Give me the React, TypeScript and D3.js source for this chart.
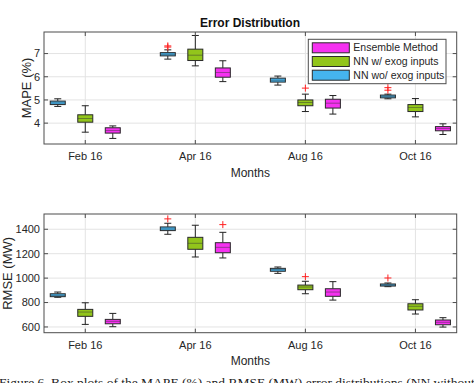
import React from "react";
import * as d3 from "d3";

const months = ["Feb 16", "Apr 16", "Aug 16", "Oct 16"];
const seriesNames = ["NN wo/ exog inputs", "NN w/ exog inputs", "Ensemble Method"];
const seriesColors = ["#45b4ee", "#92c51b", "#f531f0"];
const legendOrder = [2, 1, 0];

// [whiskerLow, q1, median, q3, whiskerHigh] per month, per series
const mapeBlue = [
  [4.72, 4.8, 4.87, 4.95, 5.05],
  [6.76, 6.9, 6.97, 7.04, 7.16],
  [5.64, 5.77, 5.85, 5.94, 6.03],
  [5.05, 5.09, 5.15, 5.21, 5.25],
];
const mapeGreen = [
  [3.61, 4.04, 4.2, 4.36, 4.75],
  [6.47, 6.7, 6.93, 7.19, 7.78],
  [4.5, 4.75, 4.89, 5.0, 5.25],
  [4.27, 4.5, 4.67, 4.8, 5.06],
];
const mapeMagenta = [
  [3.34, 3.57, 3.68, 3.8, 3.88],
  [5.79, 5.98, 6.18, 6.38, 6.69],
  [4.39, 4.65, 4.86, 5.03, 5.19],
  [3.51, 3.67, 3.77, 3.85, 3.97],
];
const mapeBlueOut = [[], [7.33, 7.28], [], [5.53, 5.42]];
const mapeGreenOut = [[], [], [5.51], []];
const mapeMagentaOut = [[], [], [], []];

const rmseBlue = [
  [843, 848, 859, 872, 886],
  [1359, 1389, 1402, 1419, 1449],
  [1039, 1056, 1069, 1080, 1091],
  [930, 935, 943, 952, 960],
];
const rmseGreen = [
  [621, 687, 722, 744, 798],
  [1173, 1236, 1285, 1334, 1433],
  [872, 905, 927, 943, 974],
  [706, 739, 769, 790, 823],
];
const rmseMagenta = [
  [602, 626, 646, 662, 711],
  [1165, 1208, 1252, 1290, 1375],
  [820, 851, 886, 913, 971],
  [599, 618, 638, 657, 676],
];
const rmseBlueOut = [[], [1485], [], [1001]];
const rmseGreenOut = [[], [], [1012], []];
const rmseMagentaOut = [[], [1438], [], []];

const mapeTicks = [4, 5, 6, 7];
const rmseTicks = [600, 800, 1000, 1200, 1400];

const FONT = "'Liberation Sans', Arial, Helvetica, sans-serif";
const AX = "#4d4d4d";
const TXT = "#262626";

type Panel = {
  top: number;
  bottom: number;
  domain: [number, number];
  ticks: number[];
  ylabel: string;
  ylabelX: number;
  stats: number[][][];
  outs: number[][][];
  xlabelY: number;
};

const left = 44;
const right = 456.7;

function PanelView({ p }: { p: Panel }) {
  const x = d3.scaleLinear().domain([0.5, 15.5]).range([left, right]);
  const y = d3.scaleLinear().domain(p.domain).range([p.bottom, p.top]);
  const monthPos = months.map((_, i) => 2 + i * 4);
  const boxW = 15;
  const capW = 7;
  const tl = 4;
  return (
    <g>
      <rect x={left} y={p.top} width={right - left} height={p.bottom - p.top} fill="#fff" />
      {p.ticks.map((t) => (
        <line key={"gy" + t} x1={left} x2={right} y1={y(t)} y2={y(t)} stroke="#e3e3e3" strokeWidth={1} />
      ))}
      {monthPos.map((m) => (
        <line key={"gx" + m} x1={x(m)} x2={x(m)} y1={p.top} y2={p.bottom} stroke="#e3e3e3" strokeWidth={1} />
      ))}
      {p.stats.map((series, si) =>
        series.map((s, mi) => {
          const cx = x(monthPos[mi] + (si - 1));
          const [lo, q1, med, q3, hi] = s;
          return (
            <g key={`b${si}-${mi}`}>
              <line x1={cx} x2={cx} y1={y(hi)} y2={y(q3)} stroke="#222" strokeWidth={1} />
              <line x1={cx} x2={cx} y1={y(q1)} y2={y(lo)} stroke="#222" strokeWidth={1} />
              <line x1={cx - capW / 2} x2={cx + capW / 2} y1={y(hi)} y2={y(hi)} stroke="#222" strokeWidth={1} />
              <line x1={cx - capW / 2} x2={cx + capW / 2} y1={y(lo)} y2={y(lo)} stroke="#222" strokeWidth={1} />
              <rect
                x={cx - boxW / 2}
                y={y(q3)}
                width={boxW}
                height={Math.max(1, y(q1) - y(q3))}
                fill={seriesColors[si]}
                stroke="#2a2a2a"
                strokeWidth={1}
              />
              <line x1={cx - boxW / 2} x2={cx + boxW / 2} y1={y(med)} y2={y(med)} stroke="#333" strokeWidth={0.8} opacity={0.6} />
              {p.outs[si][mi].map((o, oi) => (
                <g key={oi} stroke="#ff2020" strokeWidth={1}>
                  <line x1={cx - 3.5} x2={cx + 3.5} y1={y(o)} y2={y(o)} />
                  <line x1={cx} x2={cx} y1={y(o) - 3.5} y2={y(o) + 3.5} />
                </g>
              ))}
            </g>
          );
        })
      )}
      <rect x={left} y={p.top} width={right - left} height={p.bottom - p.top} fill="none" stroke={AX} strokeWidth={1} />
      {p.ticks.map((t) => (
        <g key={"ty" + t}>
          <line x1={left} x2={left + tl} y1={y(t)} y2={y(t)} stroke={AX} />
          <line x1={right - tl} x2={right} y1={y(t)} y2={y(t)} stroke={AX} />
          <text x={left - 4} y={y(t)} dy="0.35em" textAnchor="end" fontSize={11} fill={TXT} fontFamily={FONT}>
            {t}
          </text>
        </g>
      ))}
      {monthPos.map((m, i) => (
        <g key={"tx" + m}>
          <line x1={x(m)} x2={x(m)} y1={p.bottom} y2={p.bottom - tl} stroke={AX} />
          <line x1={x(m)} x2={x(m)} y1={p.top} y2={p.top + tl} stroke={AX} />
          <text x={x(m)} y={p.bottom + 16} textAnchor="middle" fontSize={11} fill={TXT} fontFamily={FONT}>
            {months[i]}
          </text>
        </g>
      ))}
      <text x={(left + right) / 2} y={p.xlabelY} textAnchor="middle" fontSize={12} fill={TXT} fontFamily={FONT}>
        Months
      </text>
      <text
        transform={`translate(${p.ylabelX},${(p.top + p.bottom) / 2}) rotate(-90)`}
        textAnchor="middle"
        dy="0.35em"
        fontSize={13}
        fill={TXT}
        fontFamily={FONT}
      >
        {p.ylabel}
      </text>
    </g>
  );
}

export default function App() {
  const top: Panel = {
    top: 32,
    bottom: 144,
    domain: [3.1, 7.93],
    ticks: mapeTicks,
    ylabel: "MAPE (%)",
    ylabelX: 26,
    stats: [mapeBlue, mapeGreen, mapeMagenta],
    outs: [mapeBlueOut, mapeGreenOut, mapeMagentaOut],
    xlabelY: 177,
  };
  const bottom: Panel = {
    top: 214,
    bottom: 332.7,
    domain: [553, 1525],
    ticks: rmseTicks,
    ylabel: "RMSE (MW)",
    ylabelX: 7.5,
    stats: [rmseBlue, rmseGreen, rmseMagenta],
    outs: [rmseBlueOut, rmseGreenOut, rmseMagentaOut],
    xlabelY: 365,
  };
  const lx = 308.3;
  const ly = 39.3;
  return (
    <svg
      width={474}
      height={383}
      style={{ position: "absolute", left: 0, top: 0, background: "#fff" }}
    >
      <rect width={474} height={383} fill="#fff" />
      <text x={250} y={27} textAnchor="middle" fontSize={12} fontWeight="bold" fill="#111" fontFamily={FONT}>
        Error Distribution
      </text>
      <PanelView p={top} />
      <PanelView p={bottom} />
      <rect x={lx} y={ly} width={137.7} height={44.4} fill="#fff" stroke={AX} strokeWidth={1} />
      {legendOrder.map((si, i) => (
        <g key={si}>
          <rect x={lx + 4} y={ly + 3.5 + i * 13.7} width={37} height={10} fill={seriesColors[si]} stroke="#2a2a2a" strokeWidth={1} />
          <text x={lx + 45} y={ly + 8.5 + i * 13.7} dy="0.35em" fontSize={10.5} fill={TXT} fontFamily={FONT}>
            {seriesNames[si]}
          </text>
        </g>
      ))}
      <text x={-1} y={387} fontSize={13.5} fill="#222" fontFamily="'Liberation Serif', 'Times New Roman', serif">
        Figure 6. Box plots of the MAPE (%) and RMSE (MW) error distributions (NN without exog
      </text>
    </svg>
  );
}
